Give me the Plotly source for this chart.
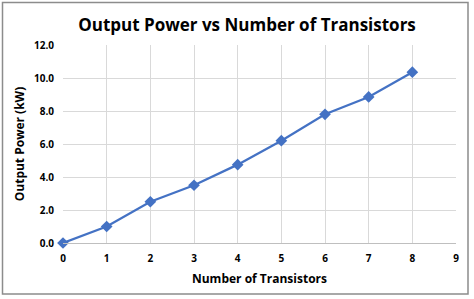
import plotly.graph_objects as go

transistors = [0, 1, 2, 3, 4, 5, 6, 7, 8]
power_kw = [0.0, 1.0, 2.5, 3.5, 4.75, 6.2, 7.8, 8.85, 10.35]
y_ticks = [0, 2, 4, 6, 8, 10, 12]
y_tick_labels = ["0.0", "2.0", "4.0", "6.0", "8.0", "10.0", "12.0"]
x_ticks = list(range(10))

FONT = "Open Sans"
W, H = 474, 299
L, R, T, B = 63, 18, 45, 56
pw, ph = W - L - R, H - T - B

fig = go.Figure()
fig.add_trace(go.Scatter(
    x=transistors, y=power_kw, mode="lines+markers",
    line=dict(color="#4472C4", width=2.25),
    marker=dict(symbol="diamond", size=9, color="#4472C4"),
    cliponaxis=False, showlegend=False,
))

def px_to_paper_x(px):
    return (px - L) / pw

def px_to_paper_y(py):
    return (H - B - py) / ph

fig.add_shape(type="rect", xref="paper", yref="paper",
              x0=px_to_paper_x(2.5), x1=px_to_paper_x(468),
              y0=px_to_paper_y(294), y1=px_to_paper_y(2.5),
              line=dict(color="#8c8c8c", width=1.5), layer="below")

fig.update_layout(
    width=W, height=H,
    margin=dict(l=L, r=R, t=T, b=B),
    paper_bgcolor="white", plot_bgcolor="white",
    title=dict(text="<b>Output Power vs Number of Transistors</b>",
               x=(247) / W, xanchor="center", y=1 - 25 / H, yanchor="middle",
               font=dict(family=FONT, size=17, color="black")),
    font=dict(family=FONT, color="black"),
    xaxis=dict(range=[0, 9], tickvals=x_ticks, ticktext=["<b>%d</b>" % v for v in x_ticks],
               ticks="", ticklabelstandoff=6,
               showgrid=True, gridcolor="#d9d9d9", gridwidth=1,
               zeroline=False, showline=True, linecolor="#bfbfbf", linewidth=1,
               tickfont=dict(family=FONT, size=10, color="black"),
               title=dict(text="<b>Number of Transistors</b>",
                          font=dict(family=FONT, size=12, color="black"), standoff=10)),
    yaxis=dict(range=[0, 12], tickvals=y_ticks, ticktext=["<b>%s</b>" % t for t in y_tick_labels],
               ticks="", ticklabelstandoff=8, showgrid=True, gridcolor="#d9d9d9", gridwidth=1,
               zeroline=False, showline=False,
               tickfont=dict(family=FONT, size=10, color="black"),
               title=dict(text="<b>Output Power (kW)</b>",
                          font=dict(family=FONT, size=12, color="black"), standoff=6)),
)

fig.write_html("out.html")
